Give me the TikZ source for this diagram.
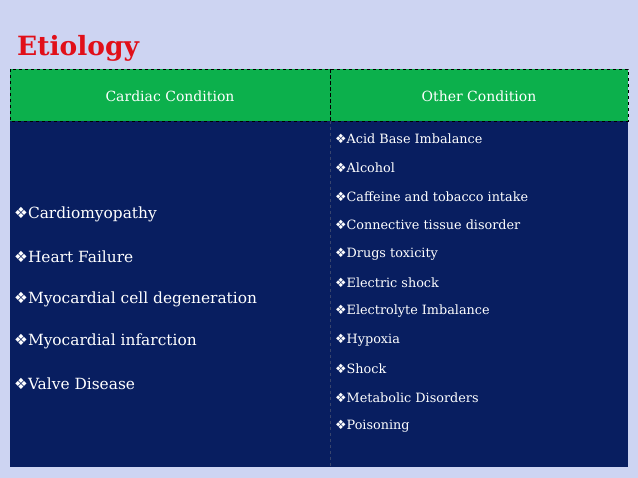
\documentclass[tikz,border=0pt]{standalone}
\usepackage{fontspec}
\setmainfont{DejaVu Serif}
\newfontfamily\sym{DejaVu Sans}
\definecolor{bg}{RGB}{205,212,242}
\definecolor{hdr}{RGB}{12,176,76}
\definecolor{navy}{RGB}{8,30,96}
\definecolor{ttl}{RGB}{225,15,25}
\newcommand{\bul}{{\sym\char"2756}}
\begin{document}
\begin{tikzpicture}[x=1pt,y=-1pt,
  cell/.style={draw=black,dashed,line width=0.6pt},
  hd/.style={text=white,font=\fontsize{14}{16}\selectfont},
  litem/.style={text=white,anchor=west,font=\fontsize{15.4}{18}\selectfont},
  ritem/.style={text=white,anchor=west,font=\fontsize{12.8}{15}\selectfont}]
\useasboundingbox (0,0) rectangle (638,478);
\fill[bg] (0,0) rectangle (638,478);
\node[anchor=west,text=ttl,font=\bfseries\fontsize{26.5}{30}\selectfont,inner sep=0pt] (title) at (17,48) {Etiology};
\fill[hdr] (10,69) rectangle (628,121);
\fill[navy] (10,121) rectangle (628,467);
\draw[cell] (10,69) rectangle (330,121);
\draw[cell] (330,69) rectangle (628,121);
\draw[navy!60!gray,dashed,line width=0.4pt] (330,121) -- (330,467);
\node[hd] (h1) at (170,96) {Cardiac Condition};
\node[hd] (h2) at (479,96) {Other Condition};
\foreach \t [count=\i] in {Cardiomyopathy,Heart Failure,Myocardial cell degeneration,Myocardial infarction,Valve Disease}
  \node[litem,inner sep=0pt] (l\i) at (14,{214+42.5*(\i-1)}) {\bul\t};
\foreach \t [count=\i] in {Acid Base Imbalance,Alcohol,Caffeine and tobacco intake,Connective tissue disorder,Drugs toxicity,Electric shock,Electrolyte Imbalance,Hypoxia,Shock,Metabolic Disorders,Poisoning}
  \node[ritem,inner sep=0pt] (r\i) at (335,{139+28.7*(\i-1)}) {\bul\t};
\end{tikzpicture}
\end{document}
